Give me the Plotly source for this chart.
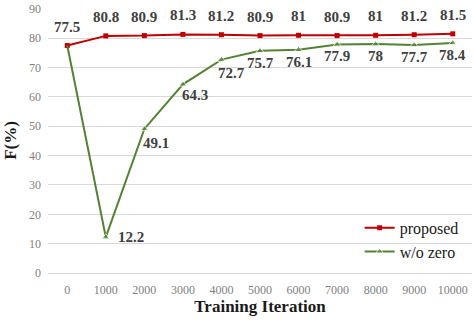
import plotly.graph_objects as go

# Training iterations (categorical x axis) and F-measure for each variant
iterations = ["0", "1000", "2000", "3000", "4000", "5000", "6000", "7000", "8000", "9000", "10000"]
proposed = [77.5, 80.8, 80.9, 81.3, 81.2, 80.9, 81, 80.9, 81, 81.2, 81.5]
wo_zero = [77.5, 12.2, 49.1, 64.3, 72.7, 75.7, 76.1, 77.9, 78, 77.7, 78.4]
y_ticks = [0, 10, 20, 30, 40, 50, 60, 70, 80, 90]

RED = "#C00000"
GREEN = "#548235"
LABEL = "#404040"
SERIF = "Liberation Serif"

fig = go.Figure()
fig.add_trace(go.Scatter(
    x=iterations, y=proposed, name="proposed", mode="lines+markers",
    line=dict(color=RED, width=2),
    marker=dict(symbol="square", size=5, color=RED),
))
fig.add_trace(go.Scatter(
    x=iterations, y=wo_zero, name="w/o zero", mode="lines+markers",
    line=dict(color=GREEN, width=2),
    # shared start point carries no marker on the green series
    marker=dict(symbol="triangle-up", color=GREEN,
                size=[0] + [7] * (len(wo_zero) - 1)),
))

label_font = dict(family=SERIF, size=15, color=LABEL)
annotations = []
# value labels above the proposed series (x given as category index)
for i, v in enumerate(proposed):
    annotations.append(dict(x=i, y=v, xref="x", yref="y", text=f"<b>{v:g}</b>",
                            showarrow=False, yshift=19, font=label_font))
# value labels below the w/o-zero series
wo_shift = {1: (25, 0), 2: (12, -14), 3: (12, -11), 4: (10, -13)}
for i, v in enumerate(wo_zero):
    if i == 0:
        continue
    dx, dy = wo_shift.get(i, (0, -12))
    annotations.append(dict(x=i, y=v, xref="x", yref="y", text=f"<b>{v:g}</b>",
                            showarrow=False, xshift=dx, yshift=dy, font=label_font))

fig.update_layout(
    width=474, height=323,
    margin=dict(l=48, r=2, t=4, b=50),
    paper_bgcolor="white", plot_bgcolor="white",
    font=dict(family=SERIF),
    annotations=annotations,
    legend=dict(x=0.735, y=0.235, xanchor="left", yanchor="top",
                bgcolor="rgba(0,0,0,0)",
                font=dict(family=SERIF, size=16, color="#1a1a1a"),
                tracegroupgap=0, itemwidth=30),
    xaxis=dict(type="category", range=[-0.5, 10.5], showgrid=False,
               showline=False, ticks="", ticklabelstandoff=8,
               tickfont=dict(family=SERIF, size=12, color="#7f7f7f"),
               title=dict(text="<b>Training Iteration</b>",
                          font=dict(family=SERIF, size=17, color="#1a1a1a"),
                          standoff=4)),
    yaxis=dict(range=[0, 90.3], tickvals=y_ticks, showgrid=True,
               gridcolor="#d9d9d9", gridwidth=1, zeroline=True,
               zerolinecolor="#d9d9d9", zerolinewidth=1, showline=False,
               ticks="", ticklabelstandoff=6, ticklabeloverflow="allow",
               tickfont=dict(family=SERIF, size=12, color="#7f7f7f"),
               title=dict(text="<b>F(%)</b>",
                          font=dict(family=SERIF, size=17, color="#1a1a1a"),
                          standoff=8)),
)

fig.write_html("out.html")
